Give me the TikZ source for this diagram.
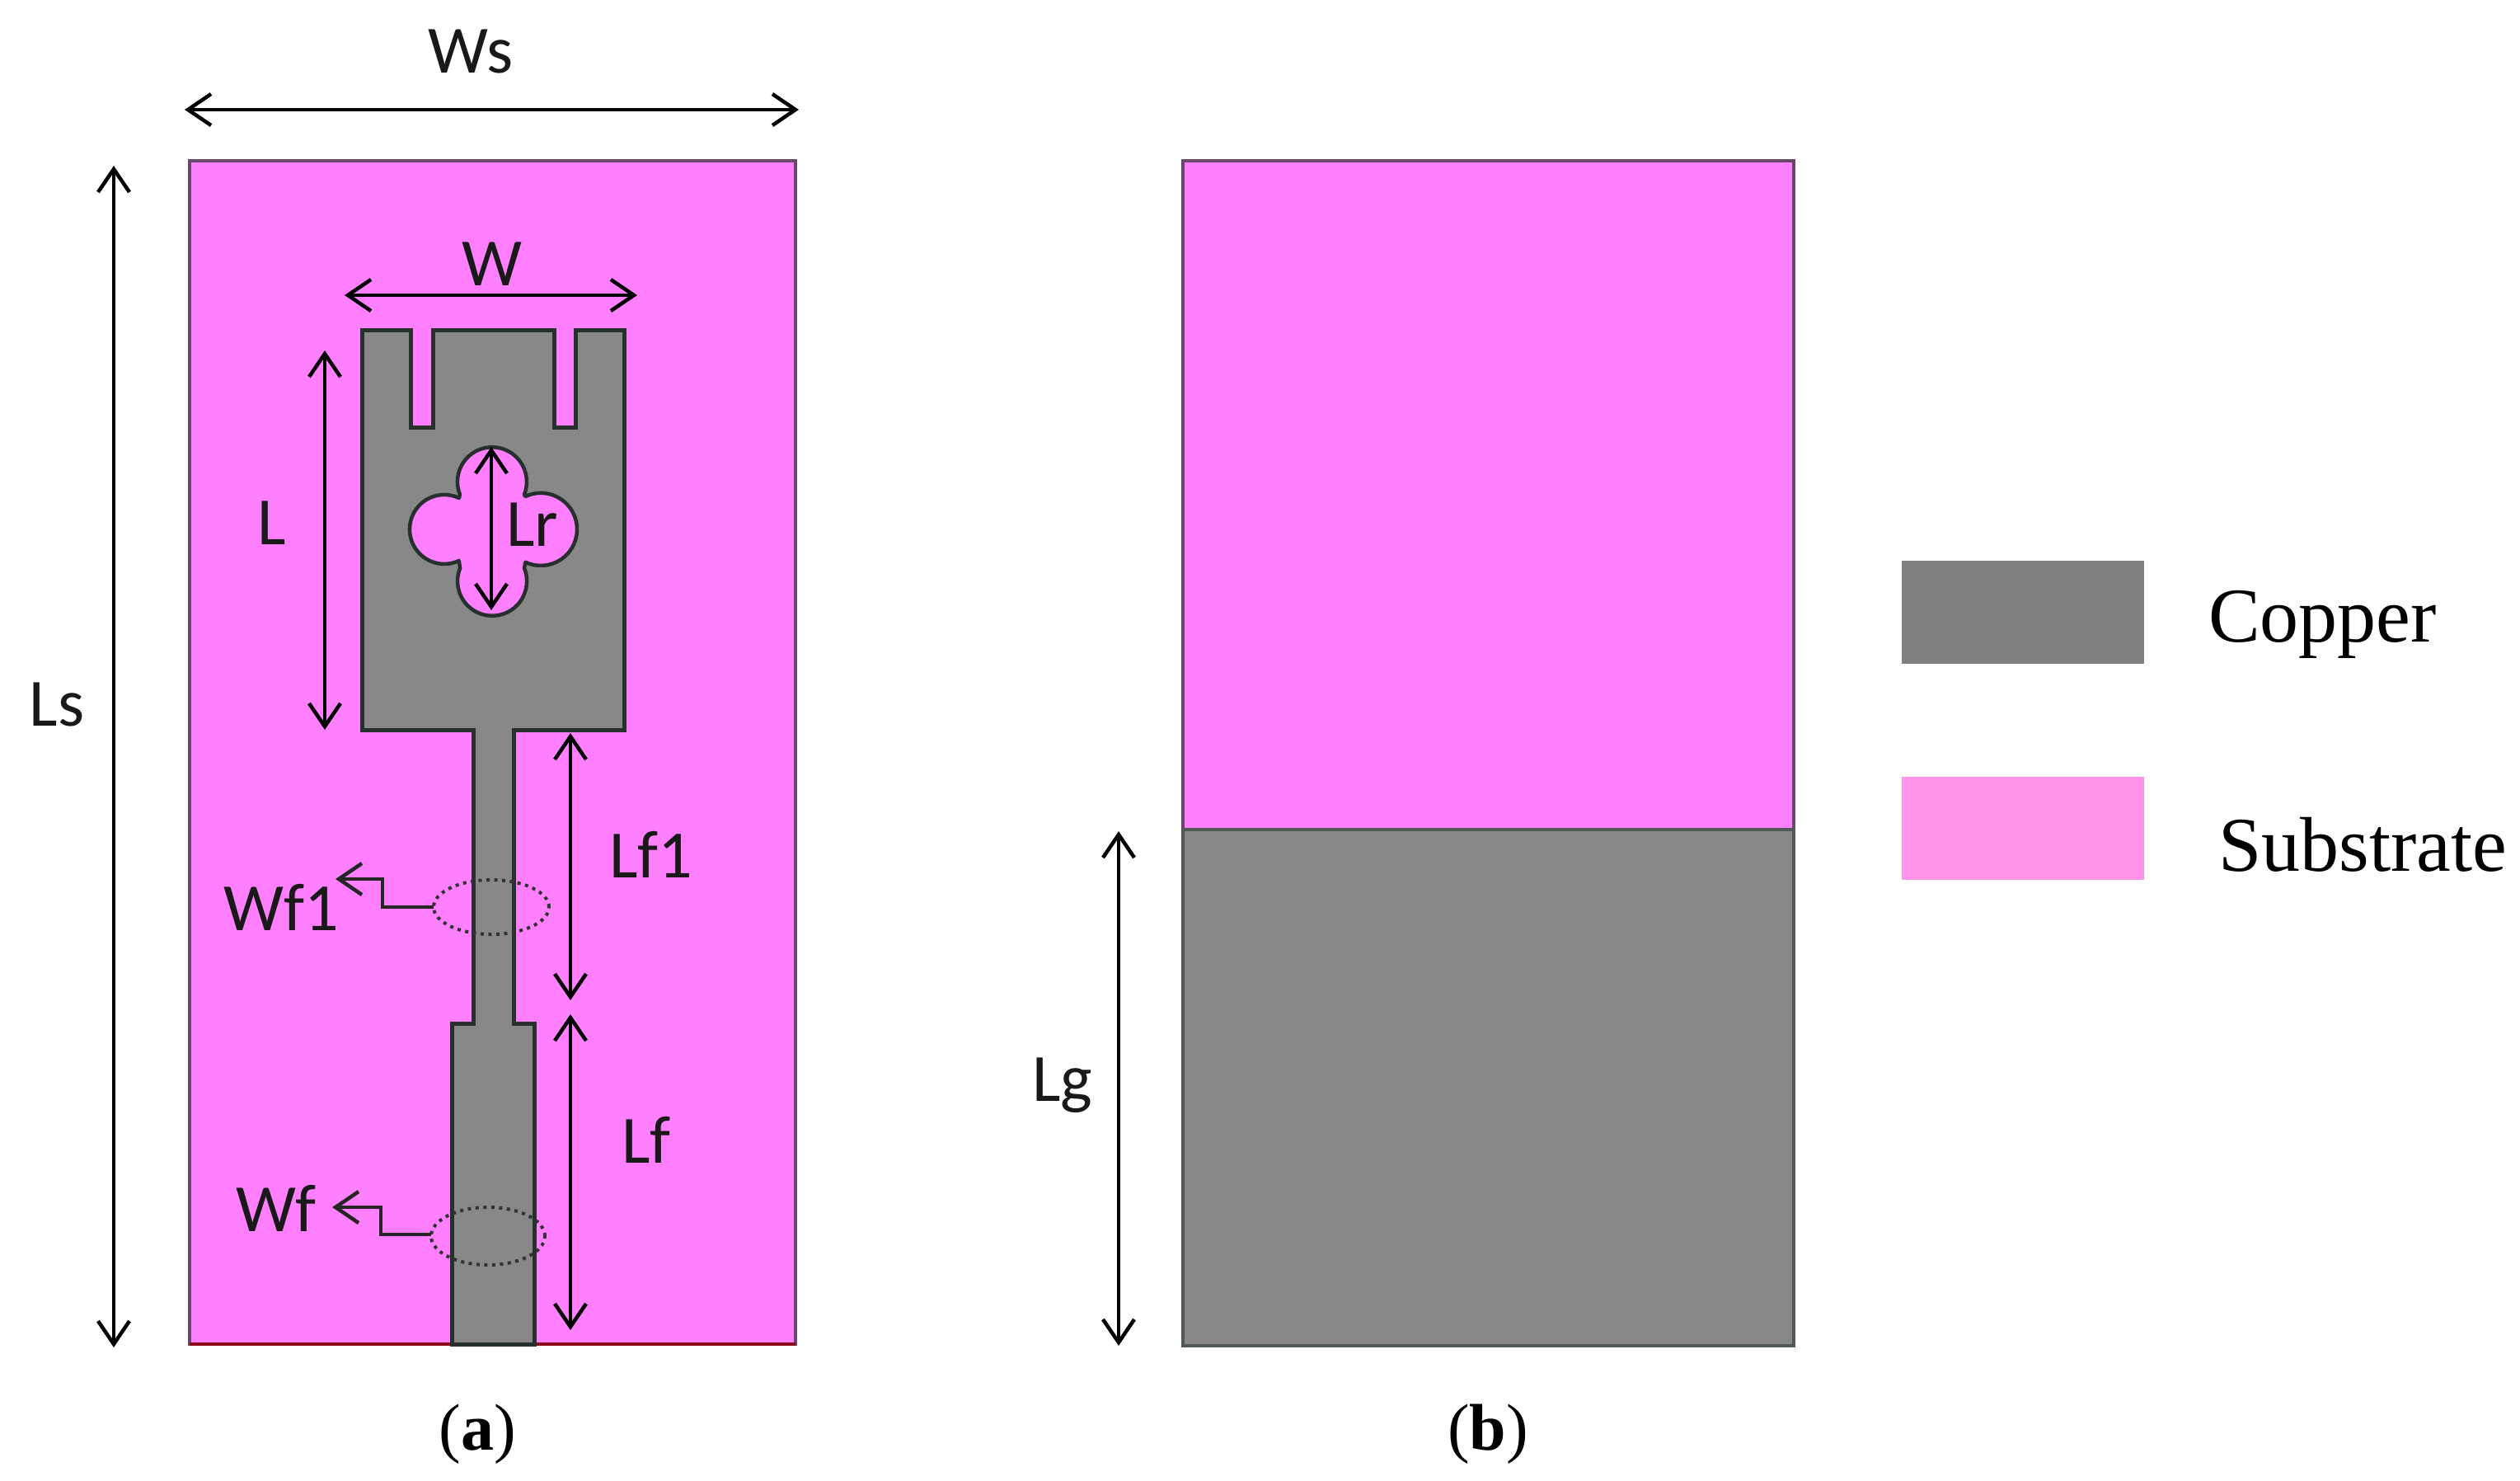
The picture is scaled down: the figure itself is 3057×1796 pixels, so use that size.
\documentclass[tikz,border=0pt]{standalone}
\usepackage{fontspec}
\setmainfont{Liberation Serif}
\newfontfamily\lblfont{Carlito}
\usetikzlibrary{arrows.meta}
\definecolor{subpink}{HTML}{FF80FF}
\definecolor{cugrey}{HTML}{888888}
\definecolor{legpink}{HTML}{FF94EA}
\definecolor{leggrey}{HTML}{808080}
\definecolor{edgedark}{HTML}{26302C}
\tikzset{
  board/.style={fill=subpink,draw=edgedark!70!subpink,line width=4pt},
  copper/.style={fill=cugrey,draw=edgedark,line width=5pt,line join=miter},
  dim/.style={draw=black,line width=4.5pt,{Straight Barb[length=28pt,width=38pt,line width=4.5pt]}-{Straight Barb[length=28pt,width=38pt,line width=4.5pt]}},
  leader/.style={draw=black!85,line width=4.5pt,-{Straight Barb[length=28pt,width=38pt,line width=4.5pt]}},
  ring/.style={draw=black!80,line width=4pt,dash pattern=on 4pt off 5.5pt},
  lbl/.style={font=\lblfont\fontsize{82}{98}\selectfont,inner sep=0pt,text=black!90},
  capt/.style={font=\fontsize{80}{96}\selectfont,inner sep=0pt},
  legend/.style={font=\fontsize{94}{110}\selectfont,inner sep=0pt,anchor=base west}
}
\begin{document}
\begin{tikzpicture}[x=1pt,y=-1pt]
\useasboundingbox (0,0) rectangle (3057,1796);
% panel a
\path[board] (230,195) rectangle (965,1630);
\draw[line width=4pt,draw=red!50!black!90!subpink] (230,1630) -- (965,1630);
% patch with slots and feed
\path[copper] (439,400) -- (498,400) -- (498,518) -- (525,518) -- (525,400) -- (672,400) -- (672,518) -- (698,518) -- (698,400) -- (757,400) -- (757,885) -- (623,885) -- (623,1241) -- (648,1241) -- (648,1630) -- (548,1630) -- (548,1241) -- (574,1241) -- (574,885) -- (439,885) -- cycle;
% clover slot
\path[fill=subpink,draw=edgedark,line width=4.5pt,line join=round]
  (558,600) arc[start angle=202,end angle=-22,radius=42pt]
  -- (637.4,602) arc[start angle=115,end angle=-115,radius=44pt]
  -- (636,689) arc[start angle=22,end angle=-202,radius=42pt]
  -- (556.7,680) arc[start angle=-65,end angle=-295,radius=42pt]
  -- cycle;
% dimension ends
\coordinate (wsL) at (224,133); \coordinate (wsR) at (969,133);
\coordinate (lsT) at (138,201); \coordinate (lsB) at (138,1634);
\coordinate (wL) at (418,358); \coordinate (wR) at (773,358);
\coordinate (lT) at (394,425); \coordinate (lB) at (394,885);
\coordinate (lrT) at (596,542); \coordinate (lrB) at (596,740);
\coordinate (lf1T) at (692,889); \coordinate (lf1B) at (692,1213);
\coordinate (lfT) at (692,1230); \coordinate (lfB) at (692,1613);
\coordinate (lgT) at (1357,1008); \coordinate (lgB) at (1357,1632);
\draw[dim] (wsL) -- (wsR);
\draw[dim] (lsT) -- (lsB);
\draw[dim] (wL) -- (wR);
\draw[dim] (lT) -- (lB);
\draw[dim] (lrT) -- (lrB);
\draw[dim] (lf1T) -- (lf1B);
\draw[dim] (lfT) -- (lfB);
% rings and leaders
\draw[ring] (596,1100) ellipse[x radius=70pt,y radius=33pt];
\draw[ring] (592,1499) ellipse[x radius=69pt,y radius=35pt];
\coordinate (r1) at (526,1100); \coordinate (r1t) at (407,1066);
\coordinate (r2) at (523,1497); \coordinate (r2t) at (403,1464);
\draw[leader] (r1) -- (464,1100) -- (464,1066) -- (r1t);
\draw[leader] (r2) -- (462,1497) -- (462,1464) -- (r2t);
% labels a
\node[lbl] (tWs) at (571,62) {Ws};
\node[lbl] (tW) at (597,320) {W};
\node[lbl] (tL) at (330,634) {L};
\node[lbl] (tLr) at (646,636) {Lr};
\node[lbl] (tLs) at (69,854) {Ls};
\node[lbl] (tLf1) at (790,1036) {Lf1};
\node[lbl] (tLf) at (784,1382) {Lf};
\node[lbl] (tWf1) at (341,1100) {Wf1};
\node[lbl] (tWf) at (335,1465) {Wf};
\node[capt] (ca) at (579,1739) {(\textbf{a})};
% panel b
\path[board] (1435,195) rectangle (2176,1006);
\path[fill=cugrey,draw=edgedark!80,line width=4pt] (1435,1006) rectangle (2176,1632);
\draw[dim] (lgT) -- (lgB);
\node[lbl] (tLg) at (1289,1316) {Lg};
\node[capt] (cb) at (1805,1739) {(\textbf{b})};
% legend
\fill[leggrey] (2307,680) rectangle (2601,805);
\fill[legpink] (2307,942) rectangle (2601,1067);
\node[legend] (lc) at (2679,778) {Copper};
\node[legend] (ls) at (2691,1056) {Substrate};
\end{tikzpicture}
\end{document}
